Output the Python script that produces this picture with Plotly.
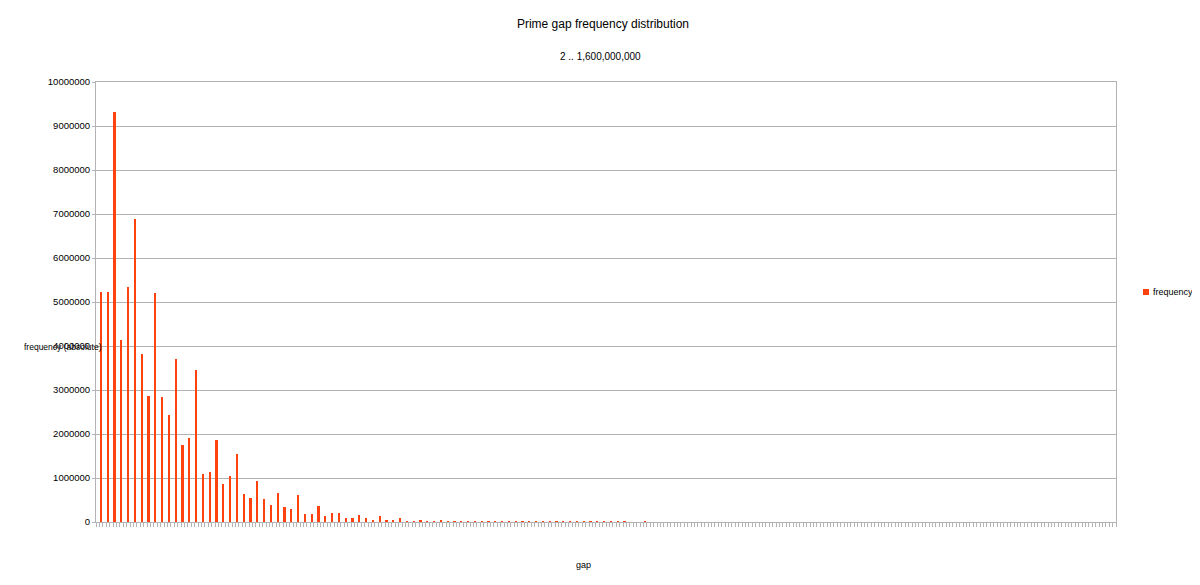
import plotly.graph_objects as go

# gap sizes (categories 1..300 on the axis, only even gaps carry data)
gaps = [1] + list(range(2, 294, 2))

# frequencies, gap 1 .. 292
freq = [
    1,
    5220000, 5220000, 9320000, 4130000, 5350000, 6890000, 3810000, 2860000,
    5200000, 2850000, 2440000, 3700000, 1760000, 1910000, 3450000, 1080000,
    1140000, 1860000, 870000, 1040000, 1540000, 630000, 540000, 930000,
    520000, 390000, 670000, 340000, 300000, 610000, 190000, 190000,
    360000, 140000, 200000, 200000, 90000, 80000, 170000, 80000,
    50000, 130000, 40000, 40000, 90000, 22000, 22000, 40000,
    20000, 20000, 30000, 15000, 12000, 20000, 12000, 8000,
    12000, 6000, 5000, 10000, 3500, 2600, 5000, 1500,
    2200, 2500, 900, 800, 1200, 900, 500, 700,
    300, 250, 500, 160, 200, 220, 90, 80,
    130, 60, 50, 90, 40, 30, 40, 20,
    15, 35, 15, 10, 12, 8, 9, 6,
    5, 5, 5, 3, 4, 2, 3, 2,
    2, 2, 1, 2, 1, 1, 1, 0,
    1, 1, 0, 1, 0, 0, 1, 0,
    0, 1, 0, 0, 0, 1, 0, 0,
    0, 0, 1, 0, 0, 0, 0, 1,
    0, 0, 0, 0, 1, 0, 0, 1,
    0, 0, 0, 1,
]

y_ticks = list(range(0, 10000001, 1000000))

fnt = "Liberation Sans, Arial, sans-serif"
grid = "#b3b3b3"
bar_color = "#ff420e"

# page body has an 8px margin, so the figure is 8px smaller and offset
W, H = 1192, 577
L, T, R, B = 88, 74, 84, 63
pw, ph = W - L - R, H - T - B


def px(x):  # page pixel -> paper x
    return (x - 8 - L) / pw


def py(y):  # page pixel -> paper y
    return (H - B - (y - 8)) / ph


fig = go.Figure()
fig.add_trace(go.Bar(
    x=gaps, y=freq, name="frequency",
    marker=dict(color=bar_color, line_width=0),
    width=0.5,
))

fig.update_layout(
    width=W, height=H,
    margin=dict(l=L, r=R, t=T, b=B, autoexpand=False),
    paper_bgcolor="white", plot_bgcolor="white",
    font=dict(family=fnt, size=10, color="#000000"),
    title=dict(text="Prime gap frequency distribution", x=(603 - 8) / W, xanchor="center",
               y=1 - (24 - 8) / H, yanchor="middle", font=dict(size=12)),
    showlegend=False,
    bargap=0,
)

fig.update_xaxes(
    range=[0.5, 300.5], showgrid=False, showticklabels=False,
    ticks="outside", tick0=0.5, dtick=1, ticklen=4, tickcolor=grid, tickwidth=1,
    showline=True, linecolor=grid, linewidth=1, mirror=True, zeroline=False,
)
fig.update_yaxes(
    range=[0, 10000000], tickvals=y_ticks, ticktext=[str(v) for v in y_ticks],
    showgrid=True, gridcolor=grid, gridwidth=1,
    showline=True, linecolor=grid, linewidth=1, mirror=True,
    ticks="outside", ticklen=3, tickcolor=grid, ticklabelstandoff=0,
    zeroline=False, tickfont=dict(size=9.5),
)

fig.add_annotation(text="2 .. 1,600,000,000", xref="paper", yref="paper",
                   x=px(600), y=py(56), showarrow=False,
                   xanchor="center", yanchor="middle", font=dict(size=10))
fig.add_annotation(text="frequency (absolute)", xref="paper", yref="paper",
                   x=px(22), y=py(347), showarrow=False,
                   xanchor="left", yanchor="middle", font=dict(size=8.5))
fig.add_annotation(text="gap", xref="paper", yref="paper",
                   x=px(583), y=py(565), showarrow=False,
                   xanchor="center", yanchor="middle", font=dict(size=9))

# legend: small square + label
fig.add_shape(type="rect", xref="paper", yref="paper",
              x0=px(1143), x1=px(1149), y0=py(295), y1=py(289),
              fillcolor=bar_color, line_width=0)
fig.add_annotation(text="frequency", xref="paper", yref="paper",
                   x=px(1151), y=py(292), showarrow=False,
                   xanchor="left", yanchor="middle", font=dict(size=9))

fig.write_html("out.html")
